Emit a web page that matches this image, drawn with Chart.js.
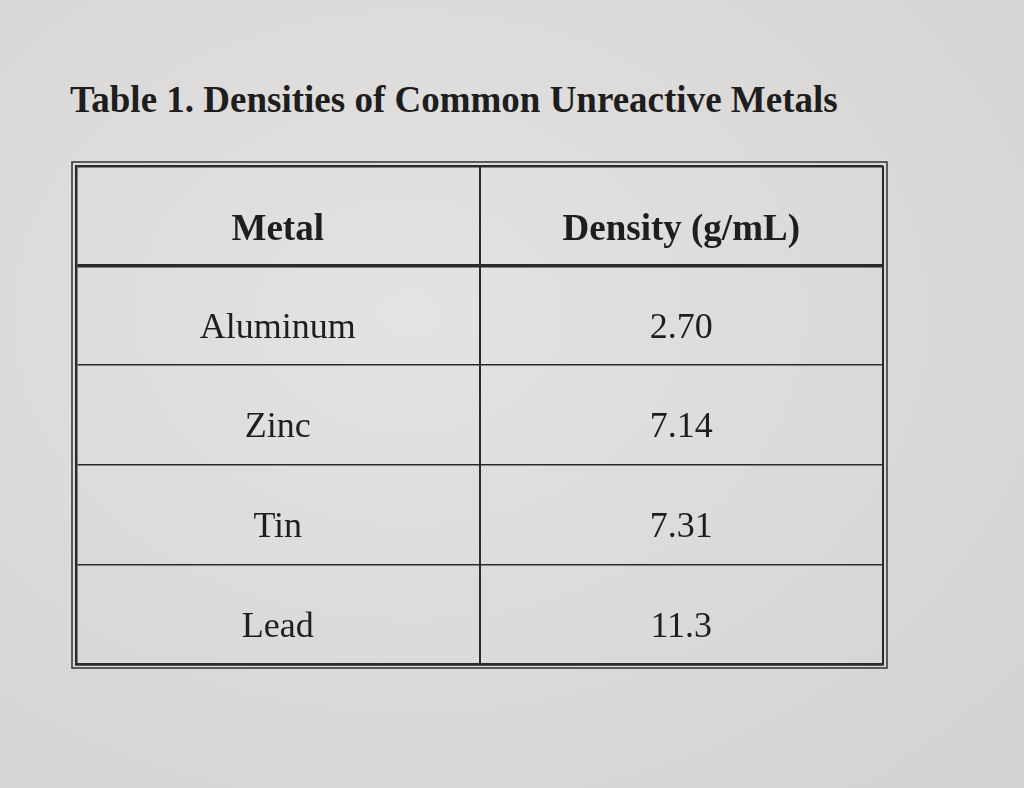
<!DOCTYPE html>
<html><head><meta charset="utf-8">
<script src="https://cdn.jsdelivr.net/npm/chart.js@4/dist/chart.umd.min.js"></script>
<style>
html,body{margin:0;padding:0;background:#dbdad8;}
#wrap{position:relative;width:1024px;height:788px;background:radial-gradient(ellipse at 40% 40%,#e4e3e1,#d3d2d0);}
#title{position:absolute;left:70px;top:78px;font:bold 37px "Liberation Serif",serif;color:#1e1e1e;white-space:nowrap;}
canvas{position:absolute;left:0;top:0;}
</style></head><body>
<div id="wrap"><div id="title">Table 1. Densities of Common Unreactive Metals</div>
<canvas id="c" width="1024" height="788"></canvas></div>
<script>
const headers = ["Metal", "Density (g/mL)"];
const metals = ["Aluminum", "Zinc", "Tin", "Lead"];
const densities = ["2.70", "7.14", "7.31", "11.3"];

const cellText = {
  id: 'cellText',
  afterDraw(chart) {
    const {ctx, scales:{x,y}, chartArea:a} = chart;
    ctx.save();
    ctx.textAlign='center'; ctx.textBaseline='middle'; ctx.fillStyle='#1e1e1e';
    ctx.font='bold 37px "Liberation Serif", serif';
    headers.forEach((h,i)=>ctx.fillText(h, x.getPixelForValue(i+0.5), y.getPixelForValue(0.65)));
    ctx.font='36px "Liberation Serif", serif';
    metals.forEach((m,r)=>{
      ctx.fillText(m, x.getPixelForValue(0.5), y.getPixelForValue(r+1.63));
      ctx.fillText(densities[r], x.getPixelForValue(1.5), y.getPixelForValue(r+1.63));
    });
    ctx.strokeStyle='#333'; ctx.lineWidth=1.5;
    ctx.strokeRect(a.left-4, a.top-4, a.right-a.left+8, a.bottom-a.top+8);
    ctx.restore();
  }
};

new Chart(document.getElementById('c'), {
  type: 'scatter',
  data: { datasets: [{ data: metals.map((m,i)=>({x:0.5,y:i+1.5})), pointRadius:0 }] },
  options: {
    responsive:false, animation:false,
    layout:{padding:{left:76,right:141,top:166,bottom:124}},
    plugins:{legend:{display:false},tooltip:{enabled:false}},
    scales:{
      x:{type:'linear',min:0,max:2,ticks:{display:false,stepSize:1},
         grid:{drawTicks:false,color:'#2a2a2a',lineWidth:2},
         border:{display:true,color:'#2a2a2a',width:2.5}},
      y:{type:'linear',min:0,max:5,reverse:true,ticks:{display:false,stepSize:1},
         grid:{drawTicks:false,color:'#2a2a2a',lineWidth:c=>c.tick.value===1?3.5:((c.tick.value===0||c.tick.value===5)?2.5:1.5)},
         border:{display:true,color:'#2a2a2a',width:2.5}}
    }
  },
  plugins:[cellText]
});
</script></body></html>
